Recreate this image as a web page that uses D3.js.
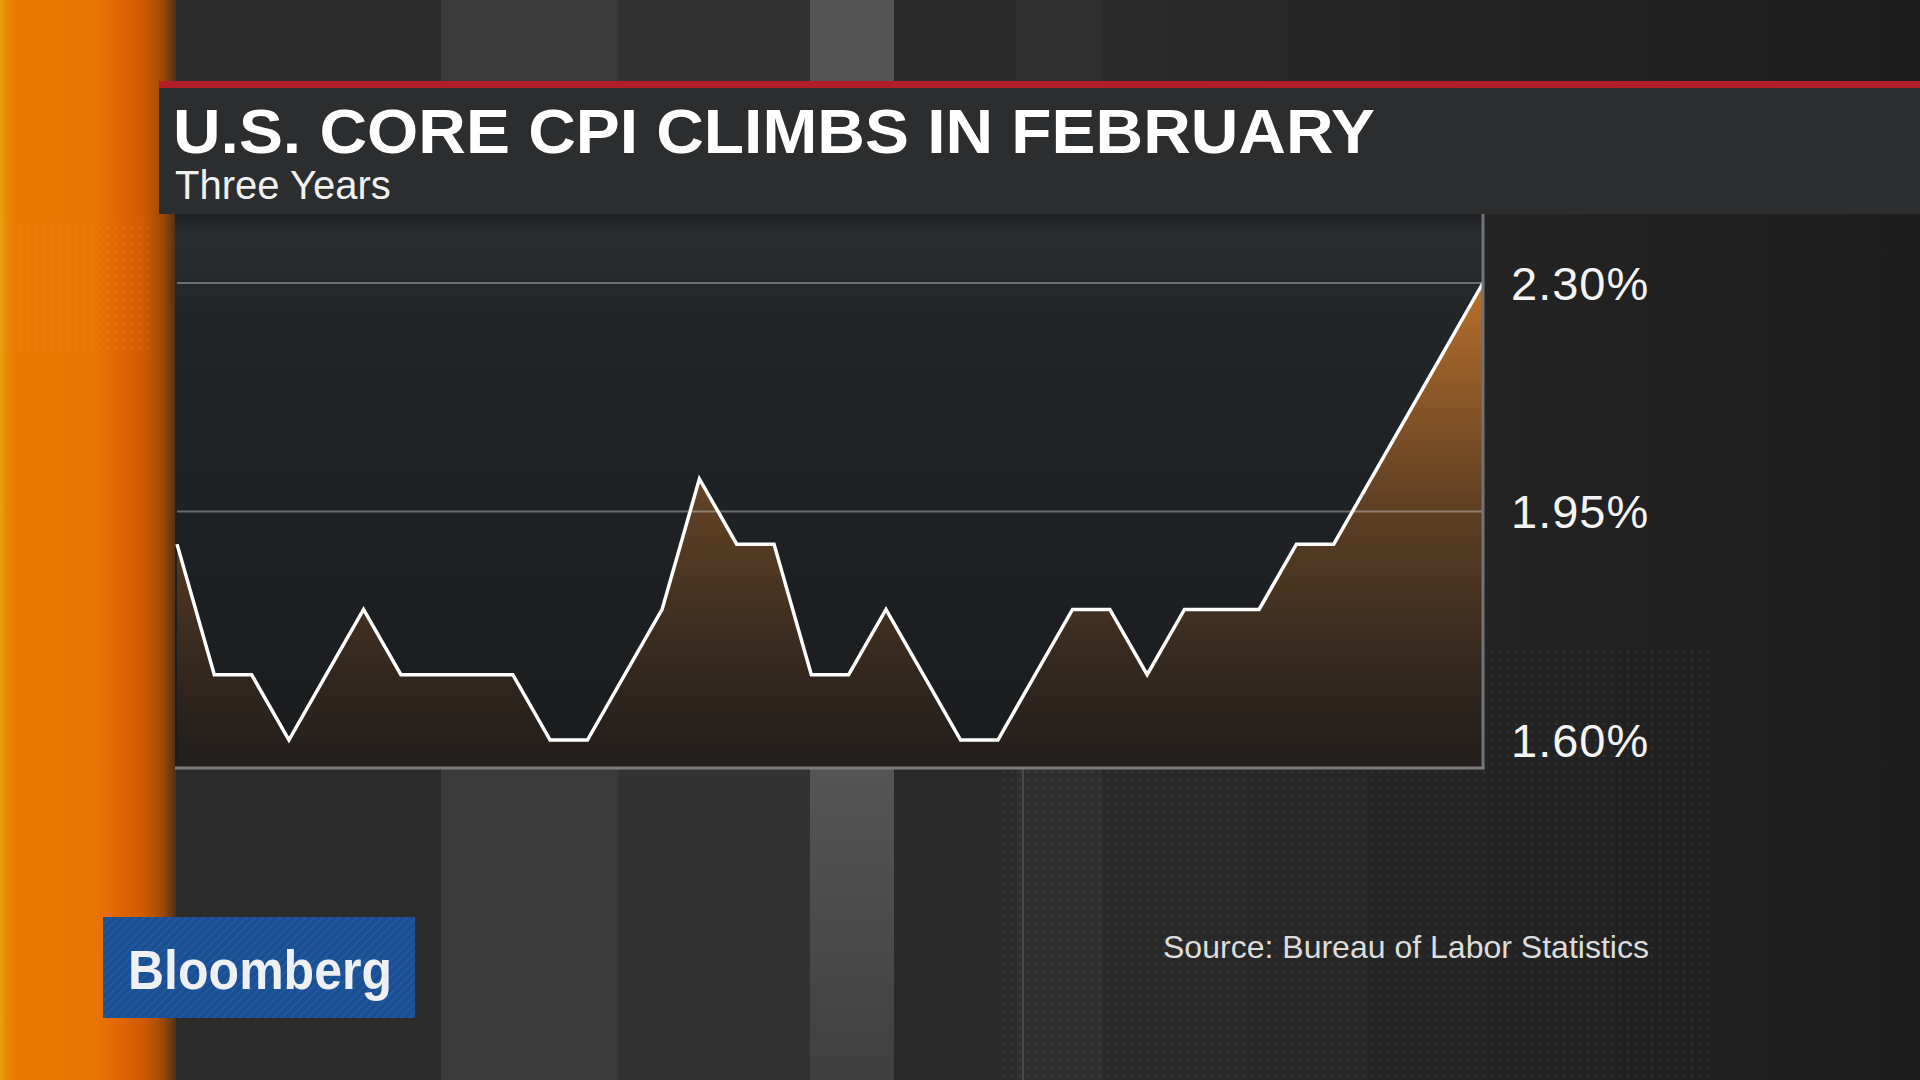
<!DOCTYPE html>
<html>
<head>
<meta charset="utf-8">
<script src="https://cdn.jsdelivr.net/npm/d3@7"></script>
<style>
  html, body { margin: 0; padding: 0; background: #262626; }
  svg { display: block; }
</style>
</head>
<body>
<svg id="stage" width="1920" height="1080"></svg>
<script>
// core CPI, year over year, Mar 2013 .. Feb 2016
const months = d3.range(36);
const cpi = [1.9, 1.7, 1.7, 1.6, 1.7, 1.8, 1.7, 1.7, 1.7, 1.7, 1.6, 1.6,
             1.7, 1.8, 2.0, 1.9, 1.9, 1.7, 1.7, 1.8, 1.7, 1.6, 1.6, 1.7,
             1.8, 1.8, 1.7, 1.8, 1.8, 1.8, 1.9, 1.9, 2.0, 2.1, 2.2, 2.3];
const tickVals = [1.60, 1.95, 2.30];
const gridVals = [1.95, 2.30];

const title = 'U.S. CORE CPI CLIMBS IN FEBRUARY';
const subtitle = 'Three Years';
const source = 'Source: Bureau of Labor Statistics';

const svg = d3.select('#stage');
const defs = svg.append('defs');

// plot box
const plotL = 177, plotR = 1483, plotT = 214, plotB = 768;

const x = d3.scaleLinear().domain([0, months.length - 1]).range([plotL, plotR]);
const y = d3.scaleLinear().domain([1.60, 2.30]).range([740, 283]);

// ---- background ----
const bg = defs.append('linearGradient').attr('id', 'bgFade').attr('x1', 0).attr('x2', 1);
bg.append('stop').attr('offset', 0).attr('stop-color', '#2d2d2d');
bg.append('stop').attr('offset', 0.6).attr('stop-color', '#292929');
bg.append('stop').attr('offset', 1).attr('stop-color', '#1d1d1d');
svg.append('rect').attr('width', 1920).attr('height', 1080).attr('fill', 'url(#bgFade)');

// vertical studio bands
const bands = [
  {x0: 441, x1: 618, c: '#3a3a3a'},
  {x0: 618, x1: 810, c: '#323232'},
  {x0: 810, x1: 894, c: '#555555'},
  {x0: 894, x1: 1016, c: '#2a2a2a'},
  {x0: 1016, x1: 1102, c: '#2f2f2f'}
];
const bandFade = defs.append('linearGradient').attr('id', 'bandFade').attr('x1', 0).attr('x2', 0).attr('y1', 0).attr('y2', 1);
bandFade.append('stop').attr('offset', 0).attr('stop-color', '#000').attr('stop-opacity', 0);
bandFade.append('stop').attr('offset', 1).attr('stop-color', '#000').attr('stop-opacity', 0.25);
svg.append('g').selectAll('rect').data(bands).join('rect')
  .attr('x', d => d.x0).attr('width', d => d.x1 - d.x0)
  .attr('y', 0).attr('height', 1080).attr('fill', d => d.c);
svg.append('rect').attr('x', 810).attr('width', 84).attr('y', 768).attr('height', 312).attr('fill', 'url(#bandFade)');
svg.append('rect').attr('x', 1022).attr('width', 2).attr('y', 768).attr('height', 312).attr('fill', '#4a4a4a');

// dotted texture lower right
const dots = defs.append('pattern').attr('id', 'dots').attr('width', 8).attr('height', 8)
  .attr('patternUnits', 'userSpaceOnUse');
dots.append('circle').attr('cx', 4).attr('cy', 4).attr('r', 1.3).attr('fill', 'rgba(255,255,255,0.07)');
svg.append('rect').attr('x', 998).attr('y', 649).attr('width', 712).attr('height', 431).attr('fill', 'url(#dots)');

// orange side stripe
const og = defs.append('linearGradient').attr('id', 'orange').attr('x1', 0).attr('x2', 1);
[[0, '#e6a412'], [0.035, '#e88a06'], [0.08, '#e97a03'], [0.55, '#e87504'],
 [0.68, '#e36402'], [0.82, '#d05a02'], [0.93, '#9a4808'], [1, '#4a3018']]
  .forEach(s => og.append('stop').attr('offset', s[0]).attr('stop-color', s[1]));
svg.append('rect').attr('x', 0).attr('y', 0).attr('width', 176).attr('height', 1080).attr('fill', 'url(#orange)');
svg.append('rect').attr('x', 0).attr('y', 220).attr('width', 150).attr('height', 135)
  .attr('fill', 'url(#dots)').attr('opacity', 0.9);

// ---- header ----
svg.append('rect').attr('x', 159).attr('y', 86).attr('width', 1761).attr('height', 128).attr('fill', '#2b2d2f');
svg.append('rect').attr('x', 159).attr('y', 81).attr('width', 1761).attr('height', 7).attr('fill', '#b31d2a');

svg.append('text')
  .attr('x', 173).attr('y', 153)
  .attr('font-family', 'Liberation Sans, Arial, sans-serif')
  .attr('font-weight', 'bold').attr('font-size', 63)
  .attr('fill', '#ffffff')
  .attr('textLength', 1202).attr('lengthAdjust', 'spacingAndGlyphs')
  .text(title);

svg.append('text')
  .attr('x', 175).attr('y', 199)
  .attr('font-family', 'Liberation Sans, Arial, sans-serif')
  .attr('font-size', 40)
  .attr('fill', '#f0f0f0')
  .text(subtitle);

// ---- plot ----
const pb = defs.append('linearGradient').attr('id', 'plotBg').attr('x1', 0).attr('x2', 0).attr('y1', 0).attr('y2', 1);
pb.append('stop').attr('offset', 0).attr('stop-color', '#1f2123');
pb.append('stop').attr('offset', 0.04).attr('stop-color', '#2a2d30');
pb.append('stop').attr('offset', 0.2).attr('stop-color', '#222528');
pb.append('stop').attr('offset', 1).attr('stop-color', '#1a1c1e');
svg.append('rect').attr('x', 175).attr('y', plotT).attr('width', plotR - 175).attr('height', plotB - plotT)
  .attr('fill', 'url(#plotBg)');

const ag = defs.append('linearGradient').attr('id', 'areaFill')
  .attr('gradientUnits', 'userSpaceOnUse')
  .attr('x1', 0).attr('x2', 0).attr('y1', y(2.30)).attr('y2', plotB);
ag.append('stop').attr('offset', 0).attr('stop-color', '#b86f2a');
ag.append('stop').attr('offset', 0.47).attr('stop-color', '#5d3f24');
ag.append('stop').attr('offset', 0.8).attr('stop-color', '#33271e');
ag.append('stop').attr('offset', 1).attr('stop-color', '#221e1c');

const area = d3.area()
  .x((d, i) => x(i))
  .y0(plotB)
  .y1(d => y(d));
svg.append('path').datum(cpi).attr('d', area).attr('fill', 'url(#areaFill)');

// grid
svg.append('g').selectAll('line').data(gridVals).join('line')
  .attr('x1', plotL).attr('x2', plotR)
  .attr('y1', d => y(d)).attr('y2', d => y(d))
  .attr('stroke', 'rgba(255,255,255,0.33)').attr('stroke-width', 2);

const line = d3.line().x((d, i) => x(i)).y(d => y(d));
svg.append('path').datum(cpi).attr('d', line)
  .attr('fill', 'none').attr('stroke', '#ffffff')
  .attr('stroke-width', 3.5).attr('stroke-linejoin', 'miter');

// frame lines
svg.append('line').attr('x1', plotR).attr('x2', plotR).attr('y1', plotT).attr('y2', plotB + 1)
  .attr('stroke', '#707274').attr('stroke-width', 3);
svg.append('line').attr('x1', 175).attr('x2', plotR + 1.5).attr('y1', plotB).attr('y2', plotB)
  .attr('stroke', '#7c7c7c').attr('stroke-width', 3);

// value labels on the right
const axis = d3.axisRight(y).tickValues(tickVals).tickSize(0).tickPadding(0)
  .tickFormat(d => d3.format('.2f')(d) + '%');
const ax = svg.append('g').attr('transform', 'translate(1511,0)').call(axis);
ax.select('.domain').remove();
ax.selectAll('text')
  .attr('font-family', 'Liberation Sans, Arial, sans-serif')
  .attr('font-size', 47)
  .attr('letter-spacing', 1)
  .attr('fill', '#f4f4f4')
  .attr('dy', '0.35em');

// ---- source + logo ----
svg.append('text')
  .attr('x', 1163).attr('y', 958)
  .attr('font-family', 'Liberation Sans, Arial, sans-serif')
  .attr('font-size', 32)
  .attr('fill', '#dcdcdc')
  .attr('textLength', 486).attr('lengthAdjust', 'spacingAndGlyphs')
  .text(source);

const stripes = defs.append('pattern').attr('id', 'stripes').attr('width', 6).attr('height', 6)
  .attr('patternUnits', 'userSpaceOnUse').attr('patternTransform', 'rotate(45)');
stripes.append('rect').attr('width', 6).attr('height', 6).attr('fill', '#1b4f93');
stripes.append('rect').attr('width', 2).attr('height', 6).attr('fill', '#21599f');
svg.append('rect').attr('x', 103).attr('y', 917).attr('width', 312).attr('height', 101).attr('fill', 'url(#stripes)');
svg.append('text')
  .attr('x', 128).attr('y', 989)
  .attr('font-family', 'Liberation Sans, Arial, sans-serif')
  .attr('font-weight', 'bold').attr('font-size', 55)
  .attr('fill', '#eef0f4')
  .attr('textLength', 264).attr('lengthAdjust', 'spacingAndGlyphs')
  .text('Bloomberg');
</script>
</body>
</html>
